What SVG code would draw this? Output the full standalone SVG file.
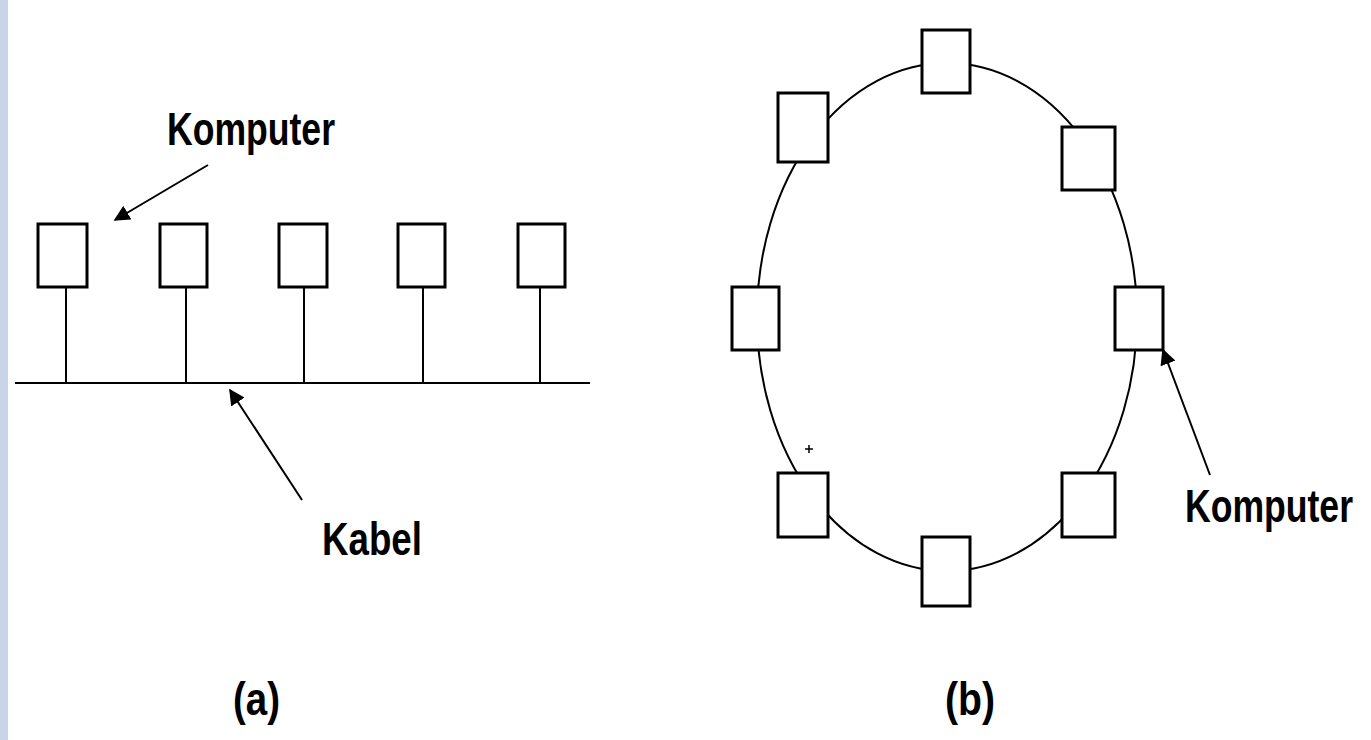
<svg xmlns="http://www.w3.org/2000/svg" width="1371" height="740" viewBox="0 0 1371 740">
<style>
.box{fill:#fff;stroke:#000;stroke-width:3}
.ln{stroke:#000;stroke-width:2;fill:none}
.t{font-family:"Liberation Sans",Arial,sans-serif;font-weight:bold;font-size:46px;fill:#000}
</style>
<defs><marker id="ah" viewBox="0 0 10 10" refX="9" refY="5" markerWidth="8" markerHeight="8" orient="auto"><path d="M0,0L10,5L0,10z" fill="#000"/></marker></defs>
<rect width="1371" height="740" fill="#fff"/>
<rect x="0" y="0" width="8" height="740" fill="#c8d4e8"/>
<g id="connectors">
<line class="ln" x1="15" y1="383" x2="590" y2="383" stroke-width="3"/>
<line class="ln" x1="66" y1="287" x2="66" y2="383"/>
<line class="ln" x1="186" y1="287" x2="186" y2="383"/>
<line class="ln" x1="304" y1="287" x2="304" y2="383"/>
<line class="ln" x1="423" y1="287" x2="423" y2="383"/>
<line class="ln" x1="540" y1="287" x2="540" y2="383"/>
<line class="ln" x1="208" y1="165" x2="115" y2="220" marker-end="url(#ah)"/>
<line class="ln" x1="302" y1="500" x2="230" y2="390" marker-end="url(#ah)"/>
<ellipse class="ln" cx="947" cy="317" rx="190" ry="254"/>
<line class="ln" x1="1210" y1="475" x2="1163" y2="350" marker-end="url(#ah)"/>
</g>
<g id="bus-nodes">
<rect id="b1" class="box" x="38" y="224" width="49" height="63"/>
<rect id="b2" class="box" x="160" y="224" width="47" height="63"/>
<rect id="b3" class="box" x="279" y="224" width="48" height="63"/>
<rect id="b4" class="box" x="398" y="224" width="47" height="63"/>
<rect id="b5" class="box" x="518" y="224" width="47" height="63"/>
</g>
<g id="ring-nodes">
<rect id="r1" class="box" x="922" y="30" width="48" height="63"/>
<rect id="r2" class="box" x="778" y="93" width="50" height="69"/>
<rect id="r3" class="box" x="1062" y="127" width="53" height="63"/>
<rect id="r4" class="box" x="732" y="287" width="47" height="63"/>
<rect id="r5" class="box" x="1115" y="287" width="48" height="63"/>
<rect id="r6" class="box" x="778" y="473" width="50" height="64"/>
<rect id="r7" class="box" x="1062" y="473" width="53" height="64"/>
<rect id="r8" class="box" x="922" y="537" width="48" height="69"/>
</g>
<path d="M805,449h8M809,445v8" stroke="#000" stroke-width="1.5"/>
<g id="labels">
<text class="t" x="167" y="145" textLength="168" lengthAdjust="spacingAndGlyphs">Komputer</text>
<text class="t" x="322" y="555" textLength="100" lengthAdjust="spacingAndGlyphs">Kabel</text>
<text class="t" x="1185" y="522" font-size="36" textLength="168" lengthAdjust="spacingAndGlyphs">Komputer</text>
<text class="t" x="233" y="715" textLength="47" lengthAdjust="spacingAndGlyphs">(a)</text>
<text class="t" x="945" y="715" textLength="50" lengthAdjust="spacingAndGlyphs">(b)</text>
</g>
</svg>
